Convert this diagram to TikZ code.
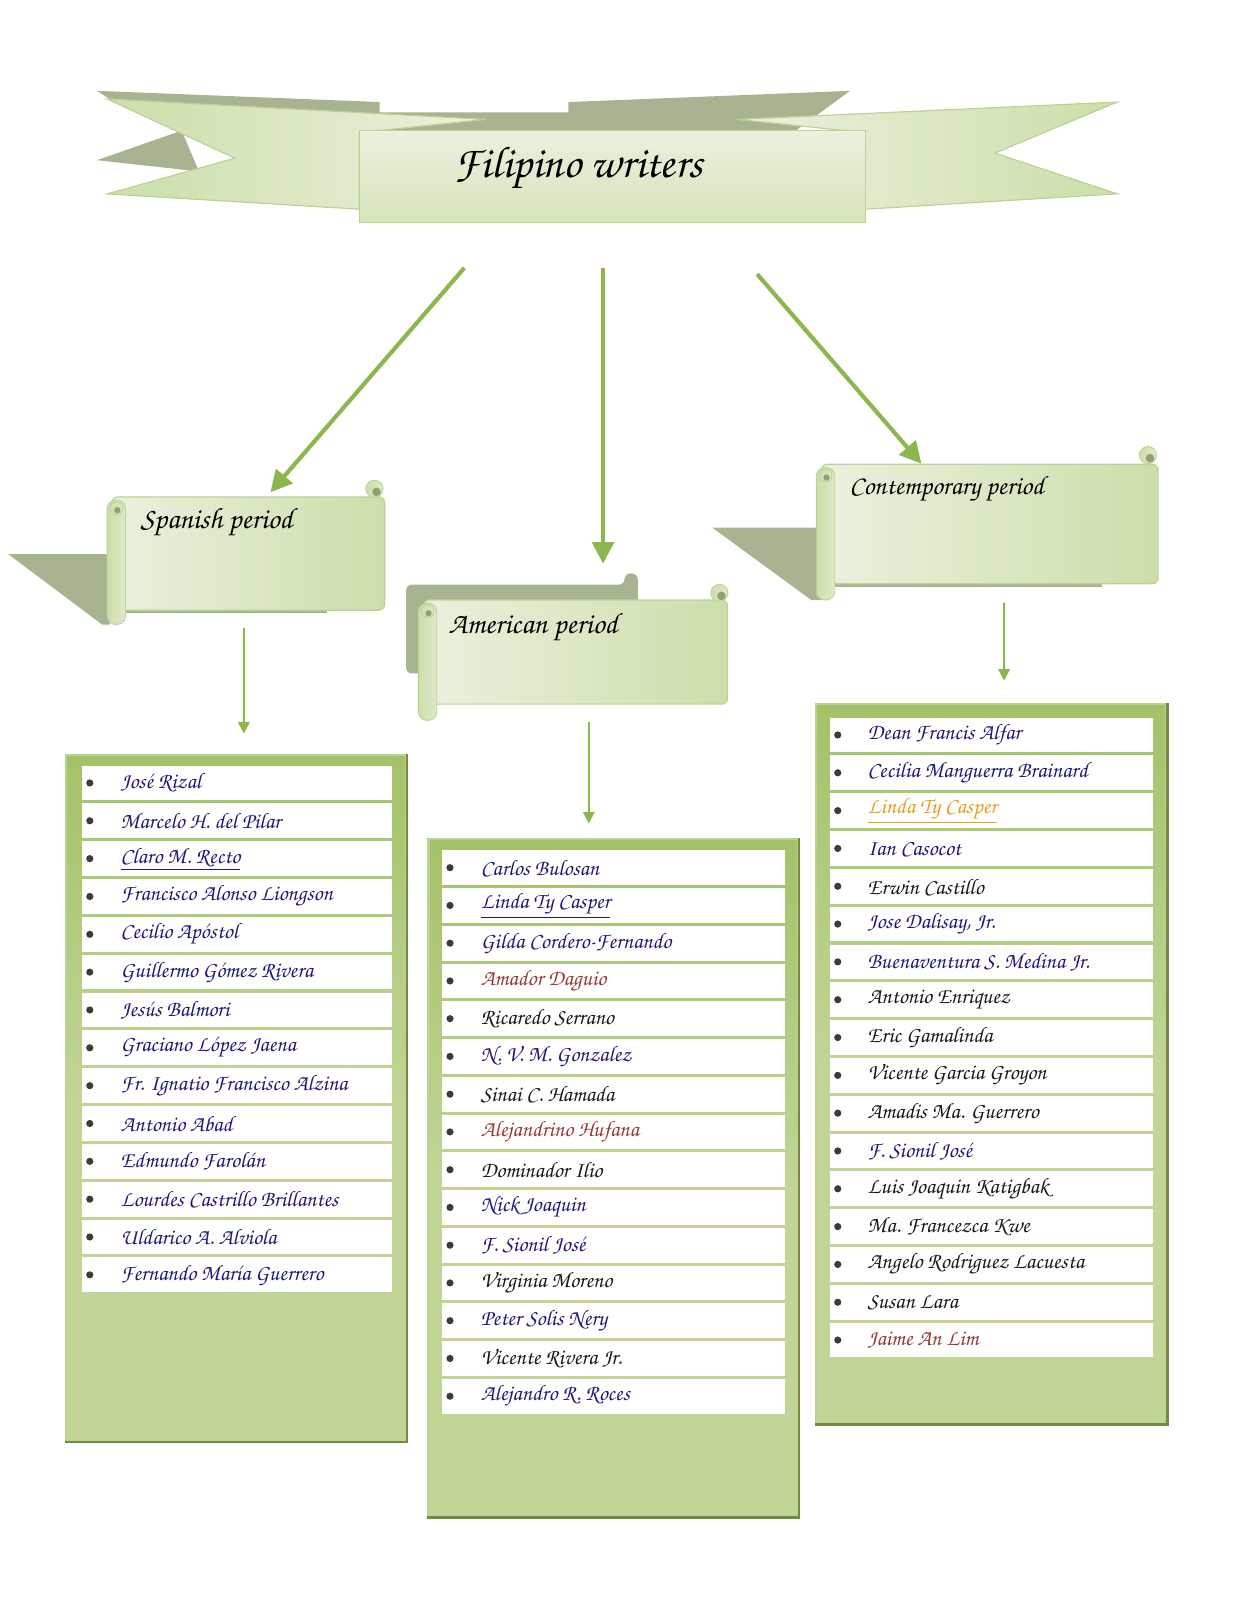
\documentclass[tikz,border=0pt]{standalone}
\usepackage{xcolor}
\definecolor{ribbonLight}{RGB}{234,241,222}
\definecolor{ribbonMid}{RGB}{204,222,170}
\definecolor{ribbonShade}{RGB}{168,180,145}
\definecolor{ribbonEdge}{RGB}{188,210,148}
\definecolor{arrowGreen}{RGB}{142,182,78}
\definecolor{panelFill}{RGB}{192,213,150}
\definecolor{panelTop}{RGB}{163,194,104}
\definecolor{panelRim}{RGB}{112,140,64}
\definecolor{curlDark}{RGB}{145,160,118}
\definecolor{nameNavy}{RGB}{28,28,120}
\definecolor{nameRed}{RGB}{150,58,56}
\definecolor{nameOrange}{RGB}{230,160,32}
\definecolor{nameBlack}{RGB}{25,25,25}
\usepackage{tikz}
\usetikzlibrary{arrows.meta, positioning, calc, fit}

\newcommand{\handfont}{\fontencoding{T1}\fontfamily{pzc}\fontseries{mb}\fontshape{it}\selectfont}
\newcommand{\linkname}[1]{\underline{#1}}

\tikzset{
  bannerpart/.style={draw=ribbonEdge, line width=0.8pt, left color=ribbonMid, right color=ribbonLight},
  bannerright/.style={draw=ribbonEdge, line width=0.8pt, left color=ribbonLight, right color=ribbonMid},
  titlebox/.style={draw=ribbonEdge, line width=0.8pt, top color=ribbonLight, bottom color=ribbonMid!70!ribbonLight, inner sep=0pt},
  titletext/.style={font={\fontsize{31}{34}\handfont}, text=black, inner sep=0pt},
  scrollbody/.style={draw=ribbonEdge, line width=0.8pt, rounded corners=4pt, inner sep=0pt, left color=ribbonLight, right color=ribbonMid},
  rollpart/.style={draw=ribbonEdge, line width=0.6pt, left color=ribbonMid, right color=ribbonLight!60!ribbonMid},
  scrollshade/.style={fill=ribbonShade},
  periodtext/.style={font={\fontsize{20.5}{23}\handfont}, text=black, inner sep=0pt},
  bigarrow/.style={draw=arrowGreen, line width=2.9pt, -{Triangle[length=15pt, width=15pt]}},
  smallarrow/.style={draw=arrowGreen, line width=1.4pt, -{Triangle[length=8pt, width=8pt]}},
  listpanel/.style={draw=ribbonEdge, line width=1.5pt, inner sep=0pt, top color=panelTop, bottom color=panelFill, middle color=panelFill},
  panelrim/.style={draw=panelRim, line width=1.8pt},
  namerow/.style={fill=white, minimum height=0.85cm, inner sep=0pt},
  writer/.style={font={\fontsize{15.5}{17}\handfont}, inner sep=0pt},
}

\begin{document}
\begin{tikzpicture}[x=0.025cm, y=-0.025cm]
\useasboundingbox (0,0) rectangle (1212,1568);

% banner
\fill[ribbonShade] (95,89) -- (372,100) -- (372,110) -- (557,110) -- (557,100) -- (833,89) -- (780,128) -- (352,134) -- (112,100) -- cycle;
\fill[ribbonShade] (95,157) -- (178,128) -- (195,168) -- cycle;
\path[bannerpart] (105,97) -- (476,117) -- (352,130) -- (352,205) -- (105,190) -- (230,155) -- cycle;
\path[bannerright] (1095,100) -- (975,150) -- (1095,190) -- (848,205) -- (848,130) -- (722,117) -- cycle;
\node[titlebox, minimum width=12.4cm, minimum height=2.25cm] (title) at (600,173) {};
\node[titletext] (titletxt) at (567,165) {Filipino writers};

% scrolls
\fill[scrollshade] (8,543) -- (108,543) -- (108,612) -- (100,612) -- cycle;
\fill[scrollshade] (123,596) rectangle (320,601);
\node[scrollbody, fit={(110,487) (377,598)}] (spanish) {};
\path[rollpart, rounded corners=6pt] (105,490) rectangle (123,612);
\path[rollpart] (114,498) circle (4.5pt);
\fill[curlDark] (115,500) circle (2.2pt);
\path[rollpart] (367,479) circle (6pt);
\fill[curlDark] (369,482) circle (3pt);
\node[periodtext, anchor=west] (spanishtxt) at ([shift={(28,26)}]spanish.north west) {Spanish period};

\fill[scrollshade, rounded corners=4pt] (398,660) -- (398,573) -- (612,573) -- (612,562) -- (625,562) -- (625,660) -- cycle;
\node[scrollbody, fit={(415,588) (713,690)}] (american) {};
\path[rollpart, rounded corners=6pt] (410,591) rectangle (428,706);
\path[rollpart] (419,599) circle (4.5pt);
\fill[curlDark] (420,601) circle (2.2pt);
\path[rollpart] (705,581) circle (6pt);
\fill[curlDark] (707,584) circle (3pt);
\node[periodtext, anchor=west] (americantxt) at ([shift={(25,28)}]american.north west) {American period};

\fill[scrollshade] (698,517) -- (805,517) -- (805,588) -- (795,588) -- cycle;
\fill[scrollshade] (818,570) rectangle (1080,575);
\node[scrollbody, fit={(805,455) (1135,572)}] (contemporary) {};
\path[rollpart, rounded corners=6pt] (800,458) rectangle (818,588);
\path[rollpart] (809,466) circle (4.5pt);
\fill[curlDark] (810,468) circle (2.2pt);
\path[rollpart] (1125,446) circle (6pt);
\fill[curlDark] (1127,449) circle (3pt);
\node[periodtext, font={\fontsize{18.5}{21}\handfont}, anchor=west] (contemporarytxt) at ([shift={(28,25)}]contemporary.north west) {Contemporary period};

% arrows from the title
\coordinate (fromSp) at ([shift={(-145,44)}]title.south);
\coordinate (fromAm) at ([shift={(-9,44)}]title.south);
\coordinate (fromCo) at ([shift={(142,50)}]title.south);
\draw[bigarrow] (fromSp) -- ([shift={(21.5,-4)}]spanish.north);
\draw[bigarrow] (fromAm) -- ([shift={(27,-35)}]american.north);
\draw[bigarrow] (fromCo) -- ([shift={(-67,0)}]contemporary.north);

% lists
\node[listpanel, fit={(65,740) (398,1412)}] (spanishlist) {};
\draw[panelrim] (spanishlist.north east) -- (spanishlist.south east) -- (spanishlist.south west);
\foreach \ink/\who [count=\i] in {nameNavy/Jos\'e Rizal, nameNavy/Marcelo H. del Pilar, nameNavy/\linkname{Claro M. Recto},
  nameNavy/Francisco Alonso Liongson, nameNavy/Cecilio Ap\'ostol, nameNavy/Guillermo G\'omez Rivera, nameNavy/Jes\'us Balmori,
  nameNavy/Graciano L\'opez Jaena, nameNavy/Fr. Ignatio Francisco Alzina, nameNavy/Antonio Abad, nameNavy/Edmundo Farol\'an,
  nameNavy/Lourdes Castrillo Brillantes, nameNavy/Uldarico A. Alviola, nameNavy/Fernando Mar\'ia Guerrero}
{
  \node[namerow, minimum width=7.6cm, anchor=north west] (sp\i) at (80,{750+(\i-1)*37.08}) {};
  \fill[nameBlack!85] ([shift={(8,0)}]sp\i.west) circle (2.5pt);
  \node[writer, text=\ink, anchor=west] (spn\i) at ([shift={(38,0)}]sp\i.west) {\who};
}

\node[listpanel, fit={(420,822) (782,1486)}] (americanlist) {};
\draw[panelrim] (americanlist.north east) -- (americanlist.south east) -- (americanlist.south west);
\foreach \ink/\who [count=\i] in {nameNavy/Carlos Bulosan, nameNavy/\linkname{Linda Ty Casper}, nameNavy/Gilda Cordero-Fernando,
  nameRed/Amador Daguio, nameBlack/Ricaredo Serrano, nameNavy/N. V. M. Gonzalez, nameBlack/Sinai C. Hamada,
  nameRed/Alejandrino Hufana, nameBlack/Dominador Ilio, nameNavy/Nick Joaquin, nameNavy/F. Sionil Jos\'e,
  nameBlack/Virginia Moreno, nameNavy/Peter Solis Nery, nameBlack/Vicente Rivera Jr., nameNavy/Alejandro R. Roces}
{
  \node[namerow, minimum width=8.4cm, anchor=north west] (am\i) at (433,{833+(\i-1)*37.0}) {};
  \fill[nameBlack!85] ([shift={(8,0)}]am\i.west) circle (2.5pt);
  \node[writer, text=\ink, anchor=west] (amn\i) at ([shift={(38,0)}]am\i.west) {\who};
}

\node[listpanel, fit={(800,690) (1143,1395)}] (contemporarylist) {};
\draw[panelrim] (contemporarylist.north east) -- (contemporarylist.south east) -- (contemporarylist.south west);
\foreach \ink/\who [count=\i] in {nameNavy/Dean Francis Alfar, nameNavy/Cecilia Manguerra Brainard, nameOrange/\linkname{Linda Ty Casper},
  nameNavy/Ian Casocot, nameBlack/Erwin Castillo, nameNavy/{Jose Dalisay, Jr.}, nameNavy/Buenaventura S. Medina Jr.,
  nameBlack/Antonio Enriquez, nameBlack/Eric Gamalinda, nameBlack/Vicente Garcia Groyon, nameBlack/Amadis Ma. Guerrero,
  nameNavy/F. Sionil Jos\'e, nameBlack/Luis Joaquin Katigbak, nameBlack/Ma. Francezca Kwe,
  nameBlack/Angelo Rodriguez Lacuesta, nameBlack/Susan Lara, nameRed/Jaime An Lim}
{
  \node[namerow, minimum width=7.925cm, anchor=north west] (co\i) at (813,{703+(\i-1)*37.06}) {};
  \fill[nameBlack!85] ([shift={(8,0)}]co\i.west) circle (2.5pt);
  \node[writer, text=\ink, anchor=west] (con\i) at ([shift={(37,0)}]co\i.west) {\who};
}

% arrows to the lists
\draw[smallarrow] ([shift={(-4.5,17)}]spanish.south) -- ([shift={(7.5,-20)}]spanishlist.north);
\draw[smallarrow] ([shift={(13,17)}]american.south) -- ([shift={(-24,-14)}]americanlist.north);
\draw[smallarrow] ([shift={(14,18)}]contemporary.south) -- ([shift={(12.5,-22)}]contemporarylist.north);
\end{tikzpicture}
\end{document}
